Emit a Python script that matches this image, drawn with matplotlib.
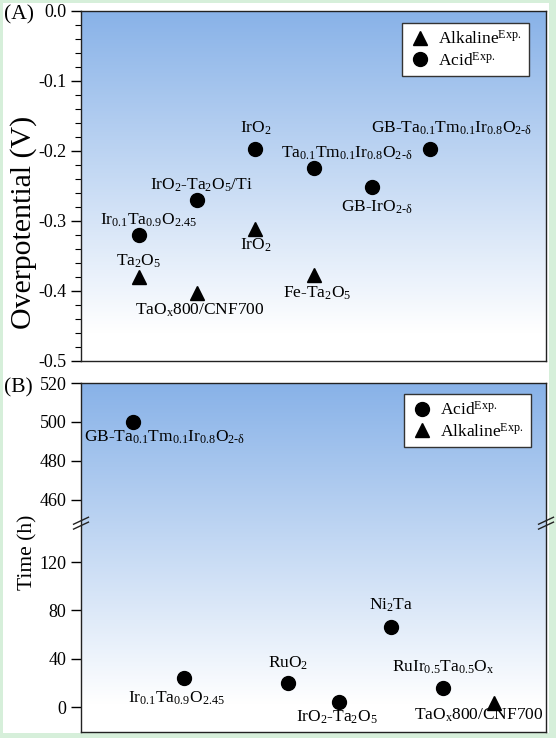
import numpy as np
import matplotlib
matplotlib.use("Agg")
import matplotlib.pyplot as plt
from matplotlib.patches import Rectangle
from matplotlib.ticker import AutoMinorLocator, FixedLocator, NullLocator
from matplotlib.colors import LinearSegmentedColormap

plt.rcParams["font.family"] = ["Liberation Serif", "DejaVu Serif"]
plt.rcParams["axes.unicode_minus"] = False
plt.rcParams["mathtext.fontset"] = "custom"
plt.rcParams["mathtext.rm"] = "Liberation Serif"
plt.rcParams["mathtext.it"] = "Liberation Serif:italic"

# ---- panel A: overpotential ----
acid_a_x = [1, 2, 3, 4, 5, 6]
acid_a_y = [-0.32, -0.27, -0.197, -0.225, -0.252, -0.197]
acid_a_lbl = [r"$\mathregular{Ir_{0.1}Ta_{0.9}O_{2.45}}$",
              r"$\mathregular{IrO_2}$-$\mathregular{Ta_2O_5}$/Ti",
              r"$\mathregular{IrO_2}$",
              r"$\mathregular{Ta_{0.1}Tm_{0.1}Ir_{0.8}O_{2\text{-}\delta}}$",
              r"GB-$\mathregular{IrO_{2\text{-}\delta}}$",
              r"GB-$\mathregular{Ta_{0.1}Tm_{0.1}Ir_{0.8}O_{2\text{-}\delta}}$"]
alk_a_x = [1, 2, 3, 4]
alk_a_y = [-0.38, -0.403, -0.312, -0.377]
alk_a_lbl = [r"$\mathregular{Ta_2O_5}$",
             r"$\mathregular{TaO_x}$800/CNF700",
             r"$\mathregular{IrO_2}$",
             r"Fe-$\mathregular{Ta_2O_5}$"]

# ---- panel B: stability time ----
acid_b_x = [1, 2, 4, 5, 6, 7]
acid_b_y = [500, 24, 20, 4, 66, 16]
acid_b_lbl = [r"GB-$\mathregular{Ta_{0.1}Tm_{0.1}Ir_{0.8}O_{2\text{-}\delta}}$",
              r"$\mathregular{Ir_{0.1}Ta_{0.9}O_{2.45}}$",
              r"$\mathregular{RuO_2}$",
              r"$\mathregular{IrO_2}$-$\mathregular{Ta_2O_5}$",
              r"$\mathregular{Ni_2Ta}$",
              r"$\mathregular{RuIr_{0.5}Ta_{0.5}O_x}$"]
alk_b_x = [8]
alk_b_y = [3]
alk_b_lbl = [r"$\mathregular{TaO_x}$800/CNF700"]

b_ticks = [0, 40, 80, 120, 460, 480, 500, 520]

# label offsets in pixels (dx, dy)
acid_a_off = [(9, 15), (4, 15), (0, 21), (33, 15), (5, -20), (22, 21)]
alk_a_off = [(0, 16), (3, -17), (0, -16), (4, -18)]
acid_b_off = [(32, -15), (-8, -20), (0, 20), (-2, -15), (0, 22), (0, 20)]
alk_b_off = [(-16, -12)]

FS_TICK = 13
FS_ANN = 12.5
MS = 10

W, H = 556, 738
fig = plt.figure(figsize=(W / 100, H / 100), dpi=100, facecolor="#d6efda")
fig.patches.append(Rectangle((3 / W, 5 / H), (W - 10) / W, (H - 8) / H,
                             transform=fig.transFigure, facecolor="white",
                             edgecolor="none", zorder=-10))

grad = LinearSegmentedColormap.from_list(
    "bg", [(0, "#ffffff"), (0.08, "#ffffff"), (1, "#88b2e8")])


def add_gradient(ax):
    g = np.linspace(0, 1, 256).reshape(-1, 1)
    ax.imshow(g, cmap=grad, aspect="auto", extent=(0, 1, 0, 1),
              origin="lower", transform=ax.transAxes, zorder=0)


def style(ax):
    for s in ax.spines.values():
        s.set_linewidth(1.0)
        s.set_color("#222222")
    ax.xaxis.set_major_locator(NullLocator())
    ax.tick_params(axis="y", which="major", direction="out", length=7,
                   width=1, labelsize=FS_TICK)
    ax.tick_params(axis="y", which="minor", direction="out", length=4, width=0.8)


def label_points(ax, xs, ys, labels, offs):
    for x, y, t, (dx, dy) in zip(xs, ys, labels, offs):
        ax.annotate(t, (x, y), xytext=(dx, dy), textcoords="offset pixels",
                    ha="center", va="center", fontsize=FS_ANN, zorder=5)


def add_legend(ax, anchor):
    ax.legend(loc="upper right", bbox_to_anchor=anchor, borderaxespad=0,
              fontsize=FS_ANN, frameon=True, fancybox=False,
              edgecolor="#333333", framealpha=1, handletextpad=0.4,
              borderpad=0.4, handlelength=1.3, labelspacing=0.2)


# panel A
ax1 = fig.add_axes([81 / W, 1 - 361 / H, 465 / W, 350 / H])
add_gradient(ax1)
style(ax1)
ax1.plot(alk_a_x, alk_a_y, "^", color="black", ms=MS, ls="none",
         label=r"Alkaline$\mathregular{^{Exp.}}$", zorder=4)
ax1.plot(acid_a_x, acid_a_y, "o", color="black", ms=MS, ls="none",
         label=r"Acid$\mathregular{^{Exp.}}$", zorder=4)
label_points(ax1, acid_a_x, acid_a_y, acid_a_lbl, acid_a_off)
label_points(ax1, alk_a_x, alk_a_y, alk_a_lbl, alk_a_off)
ax1.set_xlim(0, 8)
ax1.set_ylim(-0.5, 0.0)
ax1.set_yticks([0.0, -0.1, -0.2, -0.3, -0.4, -0.5])
ax1.set_yticklabels(["0.0", "-0.1", "-0.2", "-0.3", "-0.4", "-0.5"])
ax1.yaxis.set_minor_locator(AutoMinorLocator(5))
ax1.set_ylabel("Overpotential (V)", fontsize=21.5)
ax1.yaxis.set_label_coords(-0.094, 0.397)
add_legend(ax1, (0.9634, 0.9657))
fig.text(4 / W, 1 - 15 / H, "(A)", fontsize=15.5, va="center")

# panel B with broken y scale
BRK_LO, BRK_HI = 152, 448
v_pts = np.array([-1000.0, BRK_LO, BRK_HI, 2000.0])
g_pts = np.array([-1000 * 1.2125, BRK_LO * 1.2125, BRK_LO * 1.2125 + 0.5,
                  BRK_LO * 1.2125 + 0.5 + (2000 - BRK_HI) * 1.95])


def fwd(v):
    return np.interp(v, v_pts, g_pts)


def inv(g):
    return np.interp(g, g_pts, v_pts)


ax2 = fig.add_axes([81 / W, 1 - 732 / H, 465 / W, 349 / H])
add_gradient(ax2)
ax2.set_yscale("function", functions=(fwd, inv))
style(ax2)
ax2.plot(acid_b_x, acid_b_y, "o", color="black", ms=MS, ls="none",
         label=r"Acid$\mathregular{^{Exp.}}$", zorder=4)
ax2.plot(alk_b_x, alk_b_y, "^", color="black", ms=MS, ls="none",
         label=r"Alkaline$\mathregular{^{Exp.}}$", zorder=4)
label_points(ax2, acid_b_x, acid_b_y, acid_b_lbl, acid_b_off)
label_points(ax2, alk_b_x, alk_b_y, alk_b_lbl, alk_b_off)
ax2.set_xlim(0, 9)
ax2.set_ylim(-20.6, 520)
ax2.yaxis.set_major_locator(FixedLocator(b_ticks))
ax2.yaxis.set_minor_locator(NullLocator())
ax2.set_yticklabels([str(t) for t in b_ticks])
ax2.set_ylabel("Time (h)", fontsize=15.5)
ax2.yaxis.set_label_coords(-0.094, 0.516)
add_legend(ax2, (0.9677, 0.9685))
fig.text(4 / W, 1 - 388 / H, "(B)", fontsize=15.5, va="center")

# break marks on both spines (axes fraction of the gap)
g_lo, g_hi = fwd(-20.6), fwd(520)
yf = (fwd(BRK_LO) + 0.25 - g_lo) / (g_hi - g_lo)
for xa in (0.0, 1.0):
    for dy in (-0.007, 0.007):
        ax2.plot([xa - 0.016, xa + 0.016], [yf + dy - 0.01, yf + dy + 0.01],
                 color="#222222", lw=1.0, transform=ax2.transAxes,
                 clip_on=False, zorder=6)

fig.savefig("out.png", dpi=100, facecolor=fig.get_facecolor())
